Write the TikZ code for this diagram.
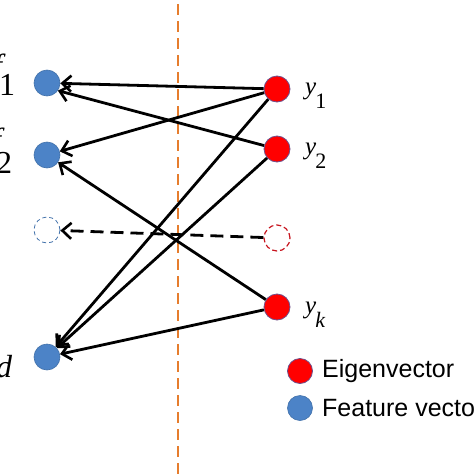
\documentclass[tikz,border=0pt]{standalone}
\usepackage{fontspec}
\setmainfont{Liberation Sans}
\newfontfamily\tnr{Liberation Serif}
\usetikzlibrary{arrows.meta}
\definecolor{fblue}{RGB}{76,131,199}
\definecolor{fblueline}{RGB}{65,113,170}
\definecolor{ered}{RGB}{255,0,0}
\definecolor{eredline}{RGB}{110,80,140}
\definecolor{dred}{RGB}{200,20,30}
\definecolor{sep}{RGB}{230,125,45}
\tikzset{
  featnode/.style={circle,fill=fblue,draw=fblueline,line width=0.6pt,minimum size=26pt,inner sep=0pt},
  eignode/.style={circle,fill=ered,draw=eredline,line width=0.8pt,minimum size=26pt,inner sep=0pt},
  featghost/.style={circle,draw=fblueline,dash pattern=on 4pt off 3pt,line width=0.8pt,minimum size=26pt,inner sep=0pt},
  eigghost/.style={circle,draw=dred,dash pattern=on 5pt off 3pt,line width=1.2pt,minimum size=26pt,inner sep=0pt},
  link/.style={line width=2.8pt,-{Straight Barb[length=9pt,width=16pt,line width=2.6pt]}},
  ghostlink/.style={link,dash pattern=on 13pt off 7pt},
  varlabel/.style={anchor=base west,inner sep=0pt,font=\fontsize{25}{25}\tnr\itshape},
  leftlabel/.style={anchor=base west,inner sep=0pt,font=\fontsize{32}{32}\tnr},
  legtext/.style={anchor=west,inner sep=0pt,font=\fontsize{25}{25}\selectfont},
}
\newcommand{\subnum}[1]{\kern-1pt\raisebox{-14pt}{\fontsize{22}{22}\selectfont\upshape #1}}
\begin{document}
\begin{tikzpicture}[x=1pt,y=-1pt]
\clip (0,0) rectangle (474,474);
\fill[white] (0,0) rectangle (474,474);
% separator
\draw[sep,line width=2.6pt,dash pattern=on 11pt off 6pt] (178,4) -- (178,474);
% feature nodes
\node[featnode] (f1) at (47,83) {};
\node[featnode] (f2) at (47,155) {};
\node[featghost] (fg) at (47,230) {};
\node[featnode] (fd) at (47,357) {};
% eigenvector nodes
\node[eignode] (y1) at (277,89) {};
\node[eignode] (y2) at (277,149) {};
\node[eigghost] (yg) at (277,238) {};
\node[eignode] (yk) at (277,307) {};
% left labels (cut off by the left edge)
\node[leftlabel] (lf1f) at (-7,76) {\itshape f};
\node[leftlabel] (lf1n) at (-1,95) {1};
\node[leftlabel] (lf2f) at (-8,150) {\itshape f};
\node[leftlabel] (lf2n) at (-4,173) {2};
\node[leftlabel] (lfdn) at (-4,377) {\itshape d};
% right labels
\node[varlabel] (ly1) at (305,94) {y\subnum{1}};
\node[varlabel] (ly2) at (305,154) {y\subnum{2}};
\node[varlabel] (lyk) at (305,313) {y\subnum{\itshape k}};
% connectors
\draw[link] (y1) -- (f1);
\draw[link] (y2) -- (f1.-35);
\draw[link] (y1) -- (f2);
\draw[link] (yk) -- (f2);
\draw[link] (y1) -- (fd);
\draw[link] (y2) -- (fd);
\draw[link] (yk) -- (fd);
\draw[ghostlink] (yg) -- (fg);
% legend
\node[eignode,minimum size=25pt] (le) at (300,371) {};
\node[featnode,minimum size=25pt] (lf) at (300,408) {};
\node[legtext] (te) at (322,371) {Eigenvector};
\node[legtext] (tf) at (322,408) {Feature vector};
\end{tikzpicture}
\end{document}
